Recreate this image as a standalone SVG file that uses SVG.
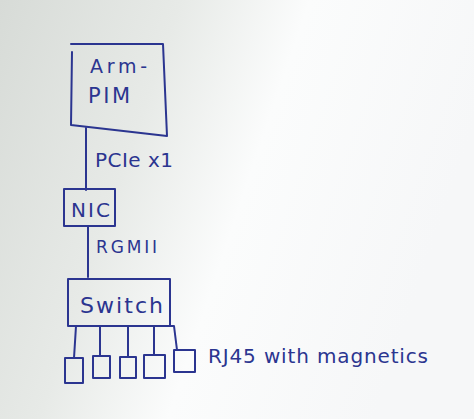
<svg xmlns="http://www.w3.org/2000/svg" width="474" height="419" viewBox="0 0 474 419">
<defs>
<linearGradient id="bg" x1="0" y1="0" x2="1" y2="0.3">
<stop offset="0" stop-color="#d7dbd7"/>
<stop offset="0.35" stop-color="#e7eae7"/>
<stop offset="0.6" stop-color="#fbfcfc"/>
<stop offset="1" stop-color="#f6f7f8"/>
</linearGradient>
<style>
.ink{fill:none;stroke:#2b3590;stroke-width:2;stroke-linejoin:round;stroke-linecap:round}
.t{fill:#2b3590;font-family:"DejaVu Sans","Liberation Sans",sans-serif}
</style>
</defs>
<rect width="474" height="419" fill="url(#bg)"/>
<g id="connectors">
<path class="ink" d="M86 128 L86 190"/>
<path class="ink" d="M88 227 L88 277"/>
<path class="ink" d="M76 326 L74 358"/>
<path class="ink" d="M100 326 L100 356"/>
<path class="ink" d="M128 326 L128 357"/>
<path class="ink" d="M154 326 L154 355"/>
<path class="ink" d="M170 326 L174 326 L177 350"/>
</g>
<g id="armpim">
<path class="ink" d="M71 44 L163 44 L167 136 M72 52 L71 125 L167 136"/>
<text class="t" x="90" y="73" font-size="19" textLength="57">Arm-</text>
<text class="t" x="88" y="103" font-size="21" textLength="42">PIM</text>
</g>
<text class="t" x="95" y="167" font-size="20" textLength="78">PCIe x1</text>
<g id="nic">
<rect class="ink" x="64" y="189" width="51" height="37"/>
<text class="t" x="71" y="217" font-size="20" textLength="39">NIC</text>
</g>
<text class="t" x="96" y="253" font-size="17" textLength="61">RGMII</text>
<g id="switch">
<rect class="ink" x="68" y="279" width="102" height="47"/>
<text class="t" x="80" y="313" font-size="22" textLength="83">Switch</text>
</g>
<g id="ports">
<rect class="ink" x="65" y="358" width="18" height="25"/>
<rect class="ink" x="93" y="356" width="17" height="22"/>
<rect class="ink" x="120" y="357" width="16" height="21"/>
<rect class="ink" x="144" y="355" width="21" height="23"/>
<rect class="ink" x="174" y="350" width="21" height="22"/>
</g>
<text class="t" x="208" y="363" font-size="20" textLength="220">RJ45 with magnetics</text>
</svg>
